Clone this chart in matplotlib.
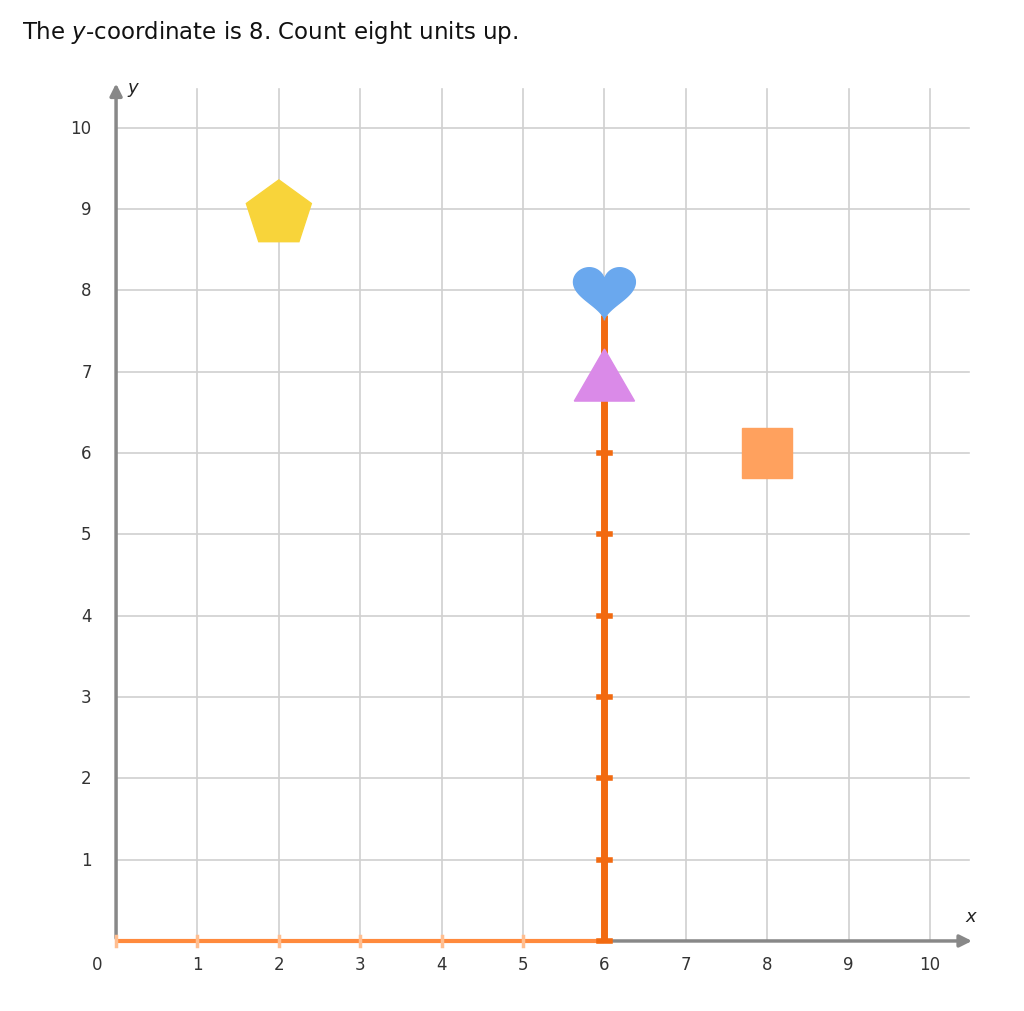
import numpy as np
import matplotlib
matplotlib.use("Agg")
import matplotlib.pyplot as plt
from matplotlib.patches import RegularPolygon, Rectangle, Polygon

plt.rcParams['mathtext.fontset'] = 'dejavusans'

# data
ticks = list(range(0, 11))
path_x = [0, 6, 6]
path_y = [0, 0, 8]
pentagon_pt = (2, 9)
heart_pt = (6, 8)
triangle_pt = (6, 7)
square_pt = (8, 6)

fig = plt.figure(figsize=(10.24, 10.12), dpi=100)
ax = fig.add_axes([0.0895, 0.0451, 0.8664, 0.8838])
ax.set_xlim(-0.3, 10.6)
ax.set_ylim(-0.3, 10.7)
ax.axis('off')

grid_c = '#d0d0d0'
for t in ticks[1:]:
    ax.plot([t, t], [0, 10.48], color=grid_c, lw=1.2, zorder=1)
    ax.plot([0, 10.48], [t, t], color=grid_c, lw=1.2, zorder=1)

axis_c = '#888888'
ax.annotate('', xy=(10.55, 0), xytext=(0, 0),
            arrowprops=dict(arrowstyle='-|>', color=axis_c, lw=2.5, mutation_scale=18), zorder=2)
ax.annotate('', xy=(0, 10.58), xytext=(0, 0),
            arrowprops=dict(arrowstyle='-|>', color=axis_c, lw=2.5, mutation_scale=18), zorder=2)
ax.text(10.5, 0.2, 'x', fontsize=13, style='italic', color='#222', ha='center', va='bottom')
ax.text(0.2, 10.5, 'y', fontsize=13, style='italic', color='#222', ha='center', va='center')

lab_c = '#333333'
for t in ticks[1:]:
    ax.text(t, -0.28, str(t), fontsize=12, color=lab_c, ha='center', va='center')
    ax.text(-0.3, t, str(t), fontsize=12, color=lab_c, ha='right', va='center')
ax.text(-0.23, -0.28, '0', fontsize=12, color=lab_c, ha='center', va='center')

# path: horizontal leg then vertical leg
ax.plot(path_x[:2], path_y[:2], color='#FF8A3D', lw=3, zorder=3, solid_capstyle='butt')
for t in range(0, path_x[1]):
    ax.plot([t, t], [-0.06, 0.06], color='#FFBE90', lw=2.5, zorder=4)
ax.plot(path_x[1:], [0, path_y[2] - 0.3], color='#F26A10', lw=5, zorder=3, solid_capstyle='butt')
for t in range(0, 7):
    ax.plot([path_x[1] - 0.07, path_x[1] + 0.07], [t, t], color='#F26A10', lw=4, zorder=4)

# pentagon
ax.add_patch(RegularPolygon((pentagon_pt[0], pentagon_pt[1] - 0.06), 5, radius=0.42,
                            color='#F8D43A', zorder=5))
# square
ax.add_patch(Rectangle((square_pt[0] - 0.31, square_pt[1] - 0.31), 0.62, 0.62,
                       color='#FFA15E', zorder=5))
# triangle
tx, ty = triangle_pt
ax.add_patch(Polygon([(tx - 0.37, ty - 0.36), (tx + 0.37, ty - 0.36), (tx, ty + 0.28)],
                     color='#DA8AE8', zorder=5))
# heart
t = np.linspace(0, 2 * np.pi, 300)
hx = 16 * np.sin(t) ** 3
hy = 13 * np.cos(t) - 5 * np.cos(2 * t) - 2 * np.cos(3 * t) - np.cos(4 * t)
hx = hx / (hx.max() - hx.min()) * 0.76
hy = (hy - hy.min()) / (hy.max() - hy.min()) * 0.64
ax.add_patch(Polygon(np.column_stack([heart_pt[0] + hx, heart_pt[1] - 0.36 + hy]),
                     color='#6AA8EE', zorder=6))

fig.text(22 / 1024, 1 - 32 / 1012, 'The $y$-coordinate is 8. Count eight units up.',
         fontsize=16.5, color='#111', ha='left', va='center')

fig.savefig('out.png', dpi=100, facecolor='white')
